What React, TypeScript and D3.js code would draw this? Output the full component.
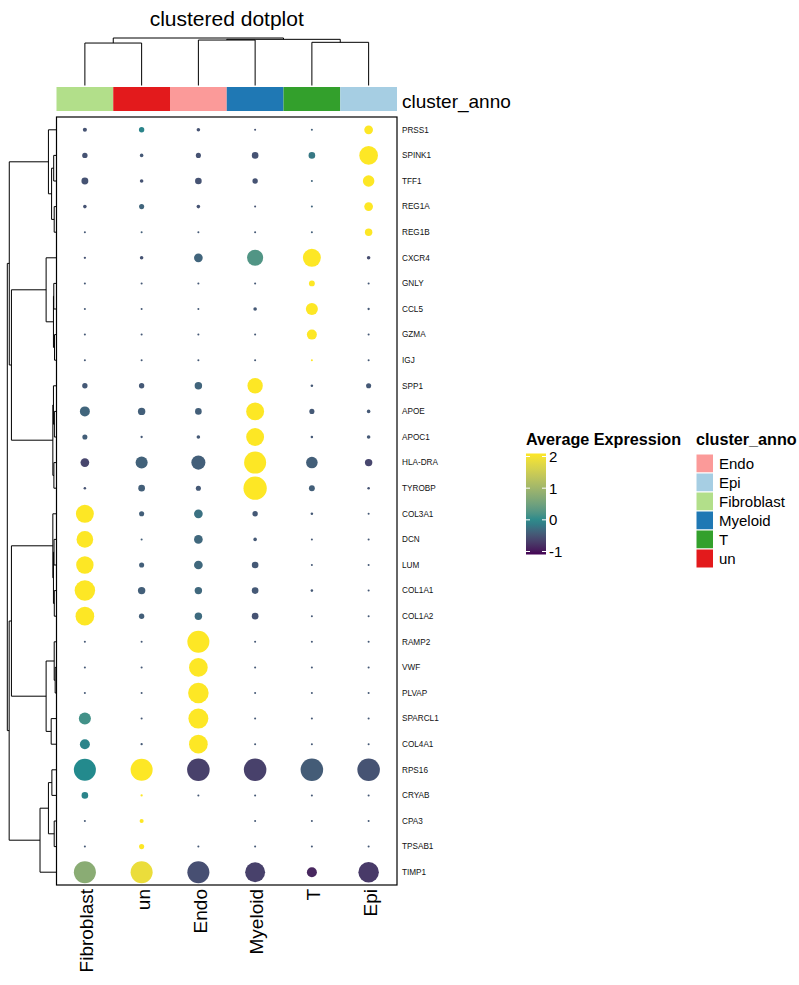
import * as d3 from 'd3';

const clusters = ['Fibroblast', 'un', 'Endo', 'Myeloid', 'T', 'Epi'];
const genes = [
  'PRSS1', 'SPINK1', 'TFF1', 'REG1A', 'REG1B', 'CXCR4', 'GNLY', 'CCL5', 'GZMA', 'IGJ',
  'SPP1', 'APOE', 'APOC1', 'HLA-DRA', 'TYROBP', 'COL3A1', 'DCN', 'LUM', 'COL1A1', 'COL1A2',
  'RAMP2', 'VWF', 'PLVAP', 'SPARCL1', 'COL4A1', 'RPS16', 'CRYAB', 'CPA3', 'TPSAB1', 'TIMP1',
];

// scaled average expression, columns in the order of `clusters`
const avgExp: number[][] = [
  [-0.45, -0.05, -0.45, -0.45, -0.35, 2],
  [-0.45, -0.4, -0.45, -0.45, -0.15, 2],
  [-0.45, -0.45, -0.45, -0.45, -0.3, 2],
  [-0.45, -0.3, -0.45, -0.45, -0.3, 2],
  [-0.4, -0.35, -0.4, -0.4, -0.35, 2],
  [-0.45, -0.45, -0.3, 0.25, 2, -0.5],
  [-0.4, -0.4, -0.4, -0.4, 2, -0.4],
  [-0.4, -0.4, -0.4, -0.4, 2, -0.4],
  [-0.4, -0.4, -0.4, -0.4, 2, -0.4],
  [-0.4, -0.4, -0.4, -0.4, 2, -0.4],
  [-0.4, -0.4, -0.3, 2, -0.4, -0.4],
  [-0.3, -0.35, -0.35, 2, -0.4, -0.4],
  [-0.35, -0.4, -0.4, 2, -0.4, -0.4],
  [-0.55, -0.33, -0.35, 2, -0.35, -0.55],
  [-0.45, -0.35, -0.4, 2, -0.35, -0.45],
  [2, -0.35, -0.2, -0.4, -0.4, -0.4],
  [2, -0.35, -0.28, -0.4, -0.4, -0.4],
  [2, -0.35, -0.28, -0.4, -0.4, -0.4],
  [2, -0.35, -0.28, -0.4, -0.4, -0.4],
  [2, -0.35, -0.25, -0.45, -0.4, -0.4],
  [-0.4, -0.4, 2, -0.4, -0.4, -0.4],
  [-0.4, -0.4, 2, -0.4, -0.4, -0.4],
  [-0.4, -0.4, 2, -0.4, -0.4, -0.4],
  [0.15, -0.4, 2, -0.4, -0.4, -0.4],
  [-0.05, -0.4, 2, -0.4, -0.4, -0.4],
  [0.0, 2, -0.6, -0.6, -0.38, -0.45],
  [-0.05, 2, -0.4, -0.4, -0.4, -0.4],
  [-0.4, 2, -0.4, -0.4, -0.4, -0.4],
  [-0.4, 2, -0.4, -0.4, -0.4, -0.4],
  [0.75, 1.8, -0.48, -0.6, -0.8, -0.65],
];

// percent of cells expressing
const pctExp: number[][] = [
  [16, 21, 14, 8, 8, 34],
  [21, 14, 20, 26, 26, 73],
  [27, 14, 26, 21, 8, 45],
  [14, 20, 14, 8, 8, 34],
  [8, 8, 8, 8, 8, 29],
  [9, 14, 34, 63, 70, 14],
  [8, 8, 8, 8, 23, 8],
  [8, 8, 8, 14, 47, 9],
  [8, 8, 8, 8, 39, 8],
  [8, 8, 8, 8, 8, 8],
  [21, 21, 29, 60, 10, 20],
  [39, 29, 26, 70, 20, 14],
  [20, 9, 14, 70, 10, 14],
  [34, 47, 55, 86, 45, 29],
  [10, 26, 20, 91, 23, 10],
  [70, 20, 34, 21, 10, 8],
  [65, 8, 34, 14, 8, 8],
  [68, 20, 34, 26, 8, 8],
  [80, 29, 29, 26, 10, 8],
  [73, 21, 29, 26, 8, 8],
  [8, 8, 86, 8, 8, 8],
  [8, 8, 73, 8, 8, 8],
  [8, 8, 80, 8, 8, 8],
  [47, 8, 78, 8, 8, 8],
  [39, 9, 73, 8, 8, 8],
  [86, 86, 88, 88, 88, 88],
  [26, 9, 8, 8, 8, 8],
  [8, 16, 0, 8, 8, 8],
  [8, 20, 8, 8, 8, 8],
  [86, 86, 86, 78, 39, 80],
];

const annoColors: Record<string, string> = {
  Endo: '#FB9A99',
  Epi: '#A6CEE3',
  Fibroblast: '#B2DF8A',
  Myeloid: '#1F78B4',
  T: '#33A02C',
  un: '#E31A1C',
};
const annoLegendOrder = ['Endo', 'Epi', 'Fibroblast', 'Myeloid', 'T', 'un'];
const colorBreaks = [-1, 0, 2];
const colorStops = ['#440154', '#238A8D', '#FDE725'];
const colorTicks = [2, 1, 0, -1];

type Tree = string | { h: number; kids: [Tree, Tree] };
const n = (h: number, a: Tree, b: Tree): Tree => ({ h, kids: [a, b] });

// column dendrogram (heights in arbitrary distance units)
const colTree: Tree = n(10,
  n(8.94, 'Fibroblast', 'un'),
  n(9.72, n(9.57, 'Endo', 'Myeloid'), n(9.09, 'T', 'Epi')));

// row dendrogram
const rowTree: Tree = n(10,
  n(9.6,
    n(1.64, 'PRSS1', n(1.0, n(0.57, 'SPINK1', 'TFF1'), n(0.47, 'REG1A', 'REG1B'))),
    n(9.16,
      n(2.11, 'CXCR4', n(0.62, n(0.55, 'GNLY', 'CCL5'), n(0.4, 'GZMA', 'IGJ'))),
      n(0.74, n(0.62, 'SPP1', n(0.43, 'APOE', 'APOC1')), n(0.53, 'HLA-DRA', 'TYROBP')))),
  n(9.62,
    n(9.16,
      n(0.74, 'COL3A1', n(0.62, n(0.5, 'DCN', 'LUM'), n(0.45, 'COL1A1', 'COL1A2'))),
      n(2.11, n(0.47, 'RAMP2', n(0.27, 'VWF', 'PLVAP')), n(1.08, 'SPARCL1', 'COL4A1'))),
    n(3.35, n(1.64, n(0.94, 'RPS16', 'CRYAB'), n(0.47, 'CPA3', 'TPSAB1')), 'TIMP1')));

function dendroPath(tree: Tree, leaf: (k: string) => number, hp: (h: number) => number, horizontal: boolean) {
  const path = d3.path();
  const seg = (p1: number, h1: number, p2: number, h2: number) => {
    if (horizontal) { path.moveTo(h1, p1); path.lineTo(h2, p2); }
    else { path.moveTo(p1, h1); path.lineTo(p2, h2); }
  };
  const walk = (t: Tree): { p: number; h: number } => {
    if (typeof t === 'string') return { p: leaf(t), h: 0 };
    const a = walk(t.kids[0]);
    const b = walk(t.kids[1]);
    const hh = hp(t.h);
    seg(a.p, hh, b.p, hh);
    seg(a.p, hh, a.p, hp(a.h));
    seg(b.p, hh, b.p, hp(b.h));
    return { p: (a.p + b.p) / 2, h: t.h };
  };
  walk(tree);
  return path.toString();
}

const W = 799;
const H = 985;
const FONT = '"Liberation Sans", Arial, Helvetica, sans-serif';

export default function App() {
  const x = d3.scaleBand<string>().domain(clusters).range([56.5, 397]);
  const y = d3.scaleBand<string>().domain(genes).range([117, 885]);
  const color = d3.scaleLinear<string>()
    .domain(colorBreaks)
    .range(colorStops)
    .interpolate(d3.interpolateLab)
    .clamp(true);
  const cell = Math.min(x.bandwidth(), y.bandwidth());
  const radius = d3.scaleLinear().domain([0, 100]).range([0, cell / 2]);

  const colH = d3.scaleLinear().domain([0, 10]).range([85.5, 38]);
  const rowH = d3.scaleLinear().domain([0, 10]).range([56.5, 7.3]);

  const legY = d3.scaleLinear().domain([-1, 2]).range([551.5, 456.5]);
  const gradStops = d3.range(0, 21).map(i => {
    const v = -1 + (3 * i) / 20;
    return { offset: `${(i / 20) * 100}%`, color: color(v) };
  });

  const cx = (c: string) => (x(c) ?? 0) + x.bandwidth() / 2;
  const cy = (g: string) => (y(g) ?? 0) + y.bandwidth() / 2;

  return (
    <svg width={W} height={H} style={{ position: 'absolute', left: 0, top: 0, background: '#fff' }} fontFamily={FONT}>
      <defs>
        <linearGradient id="expr-grad" x1="0" y1="1" x2="0" y2="0">
          {gradStops.map(s => <stop key={s.offset} offset={s.offset} stopColor={s.color} />)}
        </linearGradient>
      </defs>

      <text x={(56.5 + 397) / 2} y={26} fontSize={21} textAnchor="middle">clustered dotplot</text>

      <path d={dendroPath(colTree, cx, colH, false)} fill="none" stroke="#000" strokeWidth={1} />

      {clusters.map(c => (
        <rect key={c} x={x(c)} y={87} width={x.bandwidth()} height={24} fill={annoColors[c]} />
      ))}
      <text x={402} y={107.5} fontSize={19}>cluster_anno</text>

      <path d={dendroPath(rowTree, cy, rowH, true)} fill="none" stroke="#000" strokeWidth={1} />

      <rect x={56.5} y={117} width={340.5} height={768} fill="none" stroke="#000" strokeWidth={1.2} />

      {genes.map((g, i) =>
        clusters.map((c, j) => (
          pctExp[i][j] > 0 ? (
            <circle key={g + c} cx={cx(c)} cy={cy(g)} r={radius(pctExp[i][j])} fill={color(avgExp[i][j])} />
          ) : null
        )),
      )}

      {genes.map(g => (
        <text key={g} x={402} y={cy(g)} dy="0.35em" fontSize={8.2} fill="#111">{g}</text>
      ))}

      {clusters.map(c => (
        <text key={c} transform={`translate(${cx(c)},889) rotate(-90)`} dy="0.43em" textAnchor="end" fontSize={19}>{c}</text>
      ))}

      {/* colour legend */}
      <text x={526} y={445} fontSize={16.2} fontWeight="bold">Average Expression</text>
      <rect x={526} y={453.5} width={20} height={101} fill="url(#expr-grad)" />
      {colorTicks.map(v => (
        <g key={v}>
          <line x1={526} x2={530} y1={legY(v)} y2={legY(v)} stroke="#fff" strokeWidth={1} />
          <line x1={542} x2={546} y1={legY(v)} y2={legY(v)} stroke="#fff" strokeWidth={1} />
          <text x={549} y={legY(v)} dy="0.36em" fontSize={15}>{v}</text>
        </g>
      ))}

      {/* annotation legend */}
      <text x={696} y={445} fontSize={16.2} fontWeight="bold">cluster_anno</text>
      {annoLegendOrder.map((k, i) => (
        <g key={k}>
          <rect x={696} y={454 + i * 19} width={17.5} height={19} fill={annoColors[k]} stroke="#fff" strokeWidth={1} />
          <text x={719} y={454 + i * 19 + 9.5} dy="0.36em" fontSize={15}>{k}</text>
        </g>
      ))}
    </svg>
  );
}
